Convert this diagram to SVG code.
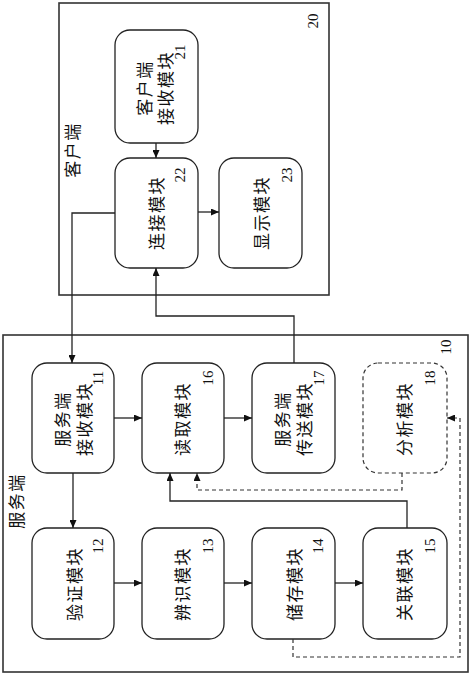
<svg xmlns="http://www.w3.org/2000/svg" width="474" height="678" viewBox="0 0 474 678">
<defs>
<marker id="arr" markerUnits="userSpaceOnUse" markerWidth="9" markerHeight="7" refX="8" refY="3.5" orient="auto">
<path d="M0,0 L8,3.5 L0,7 z" fill="#111"/>
</marker>
</defs>
<style>
.frame{fill:#fff;stroke:#333;stroke-width:1.6}
.box{fill:#fff;stroke:#222;stroke-width:1.3}
.dbox{fill:#fff;stroke:#333;stroke-width:1.2;stroke-dasharray:4 3}
.ln{fill:none;stroke:#222;stroke-width:1.3}
.dl{fill:none;stroke:#333;stroke-width:1.2;stroke-dasharray:4 3}
text{font-family:"Liberation Serif","Noto Sans CJK SC",serif;font-size:17px;letter-spacing:1.5px;fill:#111;text-anchor:middle;dominant-baseline:central}
.num{font-size:15px;letter-spacing:0}
</style>
<rect width="474" height="678" fill="#fff"/>
<g id="client">
<rect class="frame" x="59" y="3" width="270" height="292"/>
<text transform="translate(313,21) rotate(-90)" class="num">20</text>
<text transform="translate(73,150) rotate(-90)">客户端</text>
</g>
<g id="server">
<rect class="frame" x="3" y="335" width="465" height="337"/>
<text transform="translate(446,347) rotate(-90)" class="num">10</text>
<text transform="translate(17,501) rotate(-90)">服务端</text>
</g>
<g id="n21">
<rect class="box" x="115" y="30" width="83" height="113" rx="15"/>
<text transform="translate(145,88) rotate(-90)"><tspan x="0" y="0">客户端</tspan><tspan x="0" y="21">接收模块</tspan></text>
<text transform="translate(180,52) rotate(-90)" class="num">21</text>
</g>
<g id="n22">
<rect class="box" x="115" y="158" width="83" height="110" rx="15"/>
<text transform="translate(157,213) rotate(-90)">连接模块</text>
<text transform="translate(180,175) rotate(-90)" class="num">22</text>
</g>
<g id="n23">
<rect class="box" x="219" y="158" width="83" height="110" rx="15"/>
<text transform="translate(262,213) rotate(-90)">显示模块</text>
<text transform="translate(287,175) rotate(-90)" class="num">23</text>
</g>
<g id="n11">
<rect class="box" x="32" y="363" width="82" height="110" rx="15"/>
<text transform="translate(63,419) rotate(-90)"><tspan x="0" y="0">服务端</tspan><tspan x="0" y="22">接收模块</tspan></text>
<text transform="translate(98,378) rotate(-90)" class="num">11</text>
</g>
<g id="n16">
<rect class="box" x="142" y="363" width="82" height="110" rx="15"/>
<text transform="translate(183,419) rotate(-90)">读取模块</text>
<text transform="translate(208,378) rotate(-90)" class="num">16</text>
</g>
<g id="n17">
<rect class="box" x="252" y="363" width="83" height="110" rx="15"/>
<text transform="translate(283,419) rotate(-90)"><tspan x="0" y="0">服务端</tspan><tspan x="0" y="22">传送模块</tspan></text>
<text transform="translate(319,378) rotate(-90)" class="num">17</text>
</g>
<g id="n18">
<rect class="dbox" x="363" y="363" width="84" height="110" rx="15"/>
<text transform="translate(405,419) rotate(-90)">分析模块</text>
<text transform="translate(430,378) rotate(-90)" class="num">18</text>
</g>
<g id="n12">
<rect class="box" x="32" y="528" width="82" height="111" rx="15"/>
<text transform="translate(75,584) rotate(-90)">验证模块</text>
<text transform="translate(98,546) rotate(-90)" class="num">12</text>
</g>
<g id="n13">
<rect class="box" x="142" y="528" width="82" height="111" rx="15"/>
<text transform="translate(183,584) rotate(-90)">辨识模块</text>
<text transform="translate(208,546) rotate(-90)" class="num">13</text>
</g>
<g id="n14">
<rect class="box" x="252" y="528" width="83" height="111" rx="15"/>
<text transform="translate(295,584) rotate(-90)">储存模块</text>
<text transform="translate(318,546) rotate(-90)" class="num">14</text>
</g>
<g id="n15">
<rect class="box" x="363" y="528" width="84" height="111" rx="15"/>
<text transform="translate(405,584) rotate(-90)">关联模块</text>
<text transform="translate(430,546) rotate(-90)" class="num">15</text>
</g>
<g id="connectors">
<path class="ln" d="M156,143 L156,158" marker-end="url(#arr)"/>
<path class="ln" d="M198,212 L219,212" marker-end="url(#arr)"/>
<path class="ln" d="M115,213 L72,213 L72,363" marker-end="url(#arr)"/>
<path class="ln" d="M294,363 L294,316 L156,316 L156,268" marker-end="url(#arr)"/>
<path class="ln" d="M114,418 L142,418" marker-end="url(#arr)"/>
<path class="ln" d="M224,418 L252,418" marker-end="url(#arr)"/>
<path class="ln" d="M73,473 L73,528" marker-end="url(#arr)"/>
<path class="ln" d="M114,583 L142,583" marker-end="url(#arr)"/>
<path class="ln" d="M224,583 L252,583" marker-end="url(#arr)"/>
<path class="ln" d="M335,583 L363,583" marker-end="url(#arr)"/>
<path class="ln" d="M407,528 L407,501 L170,501 L170,473" marker-end="url(#arr)"/>
<path class="dl" d="M402,473 L402,490 L197,490 L197,473" marker-end="url(#arr)"/>
<path class="dl" d="M293,639 L293,657 L460,657 L460,418 L447,418" marker-end="url(#arr)"/>
</g>
</svg>
